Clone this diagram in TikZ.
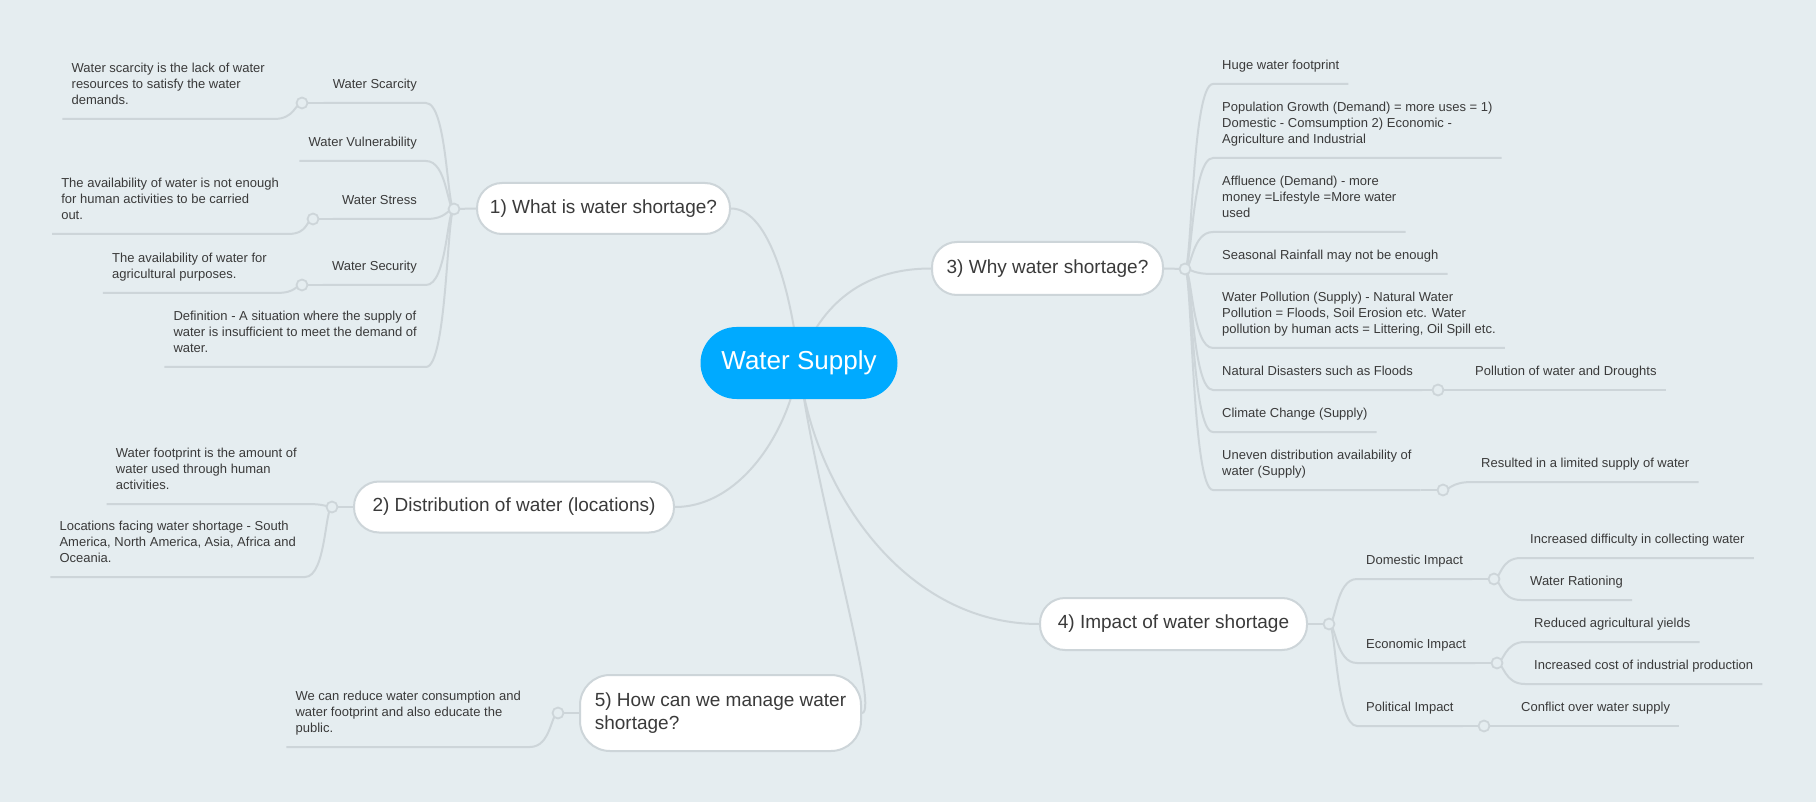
\documentclass[tikz,border=0pt]{standalone}
\usepackage{fontspec}
\setmainfont{Liberation Sans}
\usepackage{tikz}
\usetikzlibrary{backgrounds}
\definecolor{paper}{HTML}{E5EDF0}
\definecolor{wire}{HTML}{CDD5D9}
\definecolor{ink}{HTML}{3A3A3A}
\definecolor{rootblue}{HTML}{00AAFF}

\begin{document}
\begin{tikzpicture}[x=1pt, y=-1pt,
    link/.style={draw=wire, line width=2pt},
    hub/.style={circle, draw=wire, line width=1.8pt, fill=paper, inner sep=0pt, minimum size=11pt},
    topic/.style={draw=wire, line width=2pt, fill=white, text=ink, font=\fontsize{19}{23}\selectfont, minimum height=51pt, rounded corners=25pt},
    leafL/.style={anchor=south east, align=left, text=ink, font=\fontsize{13}{16}\selectfont, inner xsep=9pt, inner ysep=9.5pt, execute at end node=\strut},
    leafR/.style={leafL, anchor=south west}]
    \useasboundingbox (0,0) rectangle (1816,802);

    % central topic
    \node[fill=rootblue, text=white, font=\fontsize{26}{30}\selectfont, minimum width=197pt, minimum height=72pt, rounded corners=36pt] (ws) at (799,363) {Water Supply};

    % main branches
    \node[topic, minimum width=253pt] (n1) at (603.5,208.5) {1) What is water shortage?};
    \node[topic, minimum width=320pt] (n2) at (514,507) {2) Distribution of water (locations)};
    \node[topic, minimum width=231pt, minimum height=53pt] (n3) at (1047.5,268.5) {3) Why water shortage?};
    \node[topic, minimum width=267pt, minimum height=52pt] (n4) at (1173.5,624) {4) Impact of water shortage};
    \node[topic, minimum width=281pt, minimum height=76pt, align=left, rounded corners=30pt] (n5) at (720.5,713) {5) How can we manage water\\shortage?};

    \node[hub] (h1) at (454,209) {};
    \node[hub] (h2) at (332,507) {};
    \node[hub] (h3) at (1185,269) {};
    \node[hub] (h4) at (1329,624) {};
    \node[hub] (h5) at (558,713) {};

    % 1) what is it
    \node[leafL] (c11) at (426,103) {Water Scarcity};
    \node[leafL] (c12) at (426,161) {Water Vulnerability};
    \node[leafL] (c13) at (426,219) {Water Stress};
    \node[leafL] (c14) at (426,285) {Water Security};
    \node[leafL] (c15) at (426,367) {Definition - A situation where the supply of\\water is insufficient to meet the demand of\\water.};
    \node[hub] (h11) at (302,103) {};
    \node[hub] (h13) at (313,219) {};
    \node[hub] (h14) at (302,285) {};
    \node[leafL] (g11) at (274,119) {Water scarcity is the lack of water\\resources to satisfy the water\\demands.};
    \node[leafL] (g13) at (288,234) {The availability of water is not enough\\for human activities to be carried\\out.};
    \node[leafL] (g14) at (276,293) {The availability of water for\\agricultural purposes.};

    % 2) distribution
    \node[leafL] (c21) at (306,504) {Water footprint is the amount of\\water used through human\\activities.};
    \node[leafL] (c22) at (305,577) {Locations facing water shortage - South\\America, North America, Asia, Africa and\\Oceania.};

    % 5) manage
    \node[leafL] (c51) at (530,747) {We can reduce water consumption and\\water footprint and also educate the\\public.};

    % 3) why
    \node[leafR] (c31) at (1213,84) {Huge water footprint};
    \node[leafR] (c32) at (1213,158) {Population Growth (Demand) = more uses = 1)\\Domestic - Comsumption 2) Economic -\\Agriculture and Industrial};
    \node[leafR] (c33) at (1213,232) {Affluence (Demand) - more\\money =Lifestyle =More water\\used};
    \node[leafR] (c34) at (1213,274) {Seasonal Rainfall may not be enough};
    \node[leafR] (c35) at (1213,348) {Water Pollution (Supply) - Natural Water\\Pollution = Floods, Soil Erosion etc. Water\\pollution by human acts = Littering, Oil Spill etc.};
    \node[leafR] (c36) at (1213,390) {Natural Disasters such as Floods};
    \node[leafR] (c37) at (1213,432) {Climate Change (Supply)};
    \node[leafR] (c38) at (1213,490) {Uneven distribution availability of\\water (Supply)};
    \node[hub] (h36) at (1438,390) {};
    \node[hub] (h38) at (1443,490) {};
    \node[leafR] (g36) at (1466,390) {Pollution of water and Droughts};
    \node[leafR] (g38) at (1472,482) {Resulted in a limited supply of water};

    % 4) impact
    \node[leafR] (c41) at (1357,579) {Domestic Impact};
    \node[leafR] (c42) at (1357,663) {Economic Impact};
    \node[leafR] (c43) at (1357,726) {Political Impact};
    \node[hub] (h41) at (1494,579) {};
    \node[hub] (h42) at (1497,663) {};
    \node[hub] (h43) at (1484,726) {};
    \node[leafR] (g411) at (1521,558) {Increased difficulty in collecting water};
    \node[leafR] (g412) at (1521,600) {Water Rationing};
    \node[leafR] (g421) at (1525,642) {Reduced agricultural yields};
    \node[leafR] (g422) at (1525,684) {Increased cost of industrial production};
    \node[leafR] (g431) at (1512,726) {Conflict over water supply};

    \begin{pgfonlayer}{background}
      \fill[paper] (0,0) rectangle (1816,802);
      % central to branches
      \draw[link] (ws.center) .. controls +(-7,-63) and +(40,0) .. (n1.east);
      \draw[link] (ws.center) .. controls +(16,-43) and +(-82,0) .. (n3.west);
      \draw[link] (ws.center) .. controls +(-9,67) and +(66,0) .. (n2.east);
      \draw[link] (ws.center) .. controls +(11,117) and +(-140,0) .. (n4.west);
      \draw[link] (ws.center) .. controls +(13,117) and +(19,0) .. (n5.east);
      \draw[link] (n1.west) -- (h1.center);
      \draw[link] (n2.west) -- (h2.center);
      \draw[link] (n5.west) -- (h5.center);
      \draw[link] (n3.east) -- (h3.center);
      \draw[link] (n4.east) -- (h4.center);
      % left side
      \foreach \h/\c in {h1/c11,h1/c12,h1/c13,h1/c14,h1/c15,h11/g11,h13/g13,h14/g14,h2/c21,h2/c22,h5/c51}
        \draw[link] (\h.center) .. controls +(-7,0) and +(21,0) .. (\c.south east) -- (\c.south west);
      \foreach \c/\h in {c11/h11,c13/h13,c14/h14}
        \draw[link] (\c.south west) -- (\h.center);
      % right side
      \foreach \h/\c in {h3/c31,h3/c32,h3/c33,h3/c34,h3/c35,h3/c36,h3/c37,h3/c38,h36/g36,h38/g38,h4/c41,h4/c42,h4/c43,h41/g411,h41/g412,h42/g421,h42/g422,h43/g431}
        \draw[link] (\h.center) .. controls +(7,0) and +(-21,0) .. (\c.south west) -- (\c.south east);
      \foreach \c/\h in {c36/h36,c38/h38,c41/h41,c42/h42,c43/h43}
        \draw[link] (\c.south east) -- (\h.center);
    \end{pgfonlayer}
\end{tikzpicture}
\end{document}
